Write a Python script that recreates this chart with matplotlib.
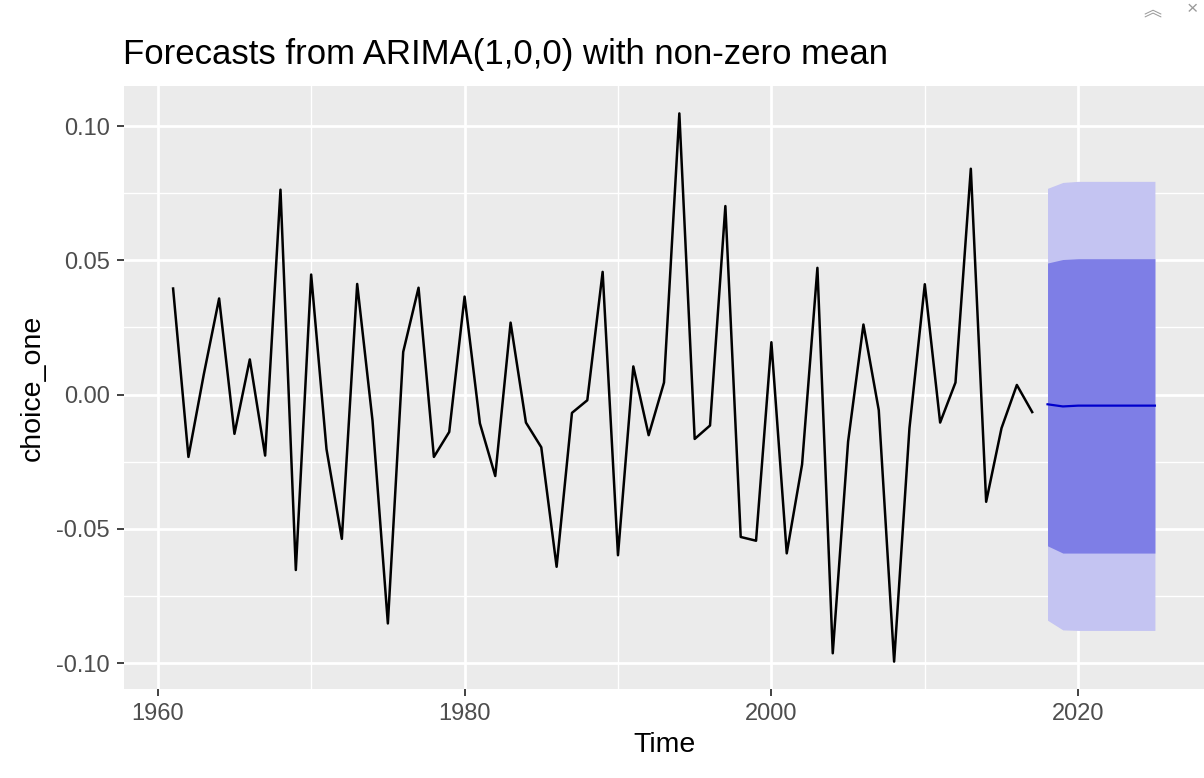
import matplotlib
matplotlib.use("Agg")
import matplotlib.pyplot as plt
from matplotlib.ticker import MultipleLocator, FormatStrFormatter

plt.rcParams['font.family'] = ['Liberation Sans', 'DejaVu Sans']

# observed series, 1961-2017
years = list(range(1961, 2018))
choice_one = [
    0.0395, -0.0232, 0.0075, 0.0358, -0.0146, 0.0131, -0.0227, 0.0763, -0.0653, 0.0447,
    -0.0203, -0.0537, 0.0412, -0.0097, -0.0852, 0.0159, 0.0398, -0.0232, -0.0139, 0.0365,
    -0.0107, -0.0303, 0.0268, -0.0104, -0.0196, -0.0641, -0.0068, -0.0021, 0.0457, -0.0598,
    0.0105, -0.0151, 0.0045, 0.1047, -0.0165, -0.0115, 0.0702, -0.0530, -0.0544, 0.0195,
    -0.0591, -0.0260, 0.0472, -0.0963, -0.0175, 0.0261, -0.0058, -0.0994, -0.0125, 0.0411,
    -0.0104, 0.0045, 0.0841, -0.0399, -0.0125, 0.0036, -0.0065,
]

# forecast, 2018-2025
fc_years = list(range(2018, 2026))
fc_mean = [-0.0036, -0.0044, -0.0041, -0.0041, -0.0041, -0.0041, -0.0041, -0.0041]
lo80 = [-0.0563, -0.0590, -0.0590, -0.0590, -0.0590, -0.0590, -0.0590, -0.0590]
hi80 = [0.0490, 0.0503, 0.0506, 0.0506, 0.0506, 0.0506, 0.0506, 0.0506]
lo95 = [-0.0840, -0.0876, -0.0878, -0.0878, -0.0878, -0.0878, -0.0878, -0.0878]
hi95 = [0.0768, 0.0790, 0.0794, 0.0794, 0.0794, 0.0794, 0.0794, 0.0794]

fig = plt.figure(figsize=(12.04, 7.78), dpi=100)
ax = fig.add_axes([124 / 1204, 1 - 689 / 778, 1 - 124 / 1204, (689 - 86) / 778])

ax.set_facecolor('#EBEBEB')
for s in ax.spines.values():
    s.set_visible(False)

ax.fill_between(fc_years, lo95, hi95, color='#C4C4F2', linewidth=0, zorder=2)
ax.fill_between(fc_years, lo80, hi80, color='#7E7EE6', linewidth=0, zorder=3)
ax.plot(fc_years, fc_mean, color='#0000CC', linewidth=1.6, zorder=4)
ax.plot(years, choice_one, color='black', linewidth=1.8, zorder=5)

ax.margins(x=0.05, y=0.05)

ax.xaxis.set_major_locator(MultipleLocator(20))
ax.xaxis.set_minor_locator(MultipleLocator(10))
ax.yaxis.set_major_locator(MultipleLocator(0.05))
ax.yaxis.set_minor_locator(MultipleLocator(0.025))
ax.yaxis.set_major_formatter(FormatStrFormatter('%.2f'))

ax.grid(which='major', color='white', linewidth=2.0, zorder=1)
ax.grid(which='minor', color='white', linewidth=1.0, zorder=1)
ax.set_axisbelow(True)

ax.tick_params(which='major', length=5, width=1.3, color='#333333',
               labelsize=17, labelcolor='#4D4D4D', pad=5)
ax.tick_params(which='minor', length=0)

ax.set_xlabel('Time', fontsize=20.5, labelpad=5)
ax.set_ylabel('choice_one', fontsize=20.5, labelpad=8)

fig.text(123 / 1204, 1 - 64 / 778, 'Forecasts from ARIMA(1,0,0) with non-zero mean',
         fontsize=25, ha='left', va='baseline')

# small gray window icons in the top-right corner
fig.text(1152 / 1204, 1 - 10 / 778, '︽', fontsize=13, color='#9A9A9A', ha='center', va='center',
         family=['Noto Sans CJK SC', 'DejaVu Sans'])
fig.text(1192 / 1204, 1 - 10 / 778, '×', fontsize=14, color='#9A9A9A', ha='center', va='center')

fig.savefig('out.png', dpi=100)
